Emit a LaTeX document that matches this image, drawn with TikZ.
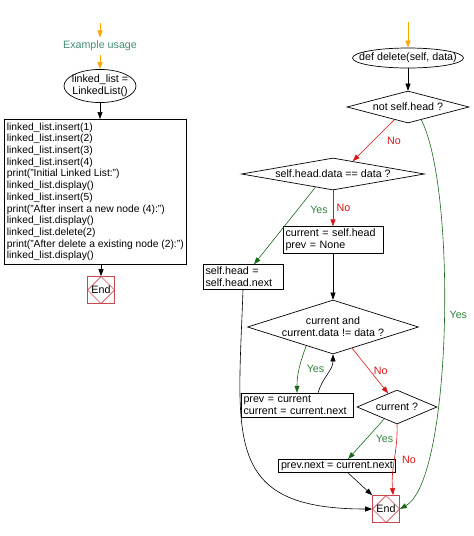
\documentclass[tikz,border=0pt]{standalone}
\usepackage{fontspec}
\setmainfont{Liberation Sans}
\usetikzlibrary{arrows.meta}
\usetikzlibrary{calc}
\usetikzlibrary{shapes.geometric}
\definecolor{dgreen}{RGB}{25,105,25}
\definecolor{lgreen}{RGB}{50,130,60}
\definecolor{dred}{RGB}{220,20,20}
\definecolor{endred}{RGB}{200,70,80}
\definecolor{usage}{RGB}{70,140,120}
\definecolor{orng}{RGB}{255,165,0}
\tikzstyle{fhead}=[>/.tip={Triangle[length=7pt,width=5pt]}]
\tikzstyle{fl} =[line width=.6pt,fhead,->]
\tikzstyle{flg}=[fl,dgreen]
\tikzstyle{flr}=[fl,dred]
\tikzstyle{flo}=[fl,orng]
\tikzstyle{stm}=[draw,line width=.7pt,align=left,inner sep=2.5pt]
\tikzstyle{dec}=[draw,diamond,line width=.7pt,inner sep=0pt,align=center]
\tikzstyle{strt}=[draw,ellipse,line width=.7pt,inner sep=0pt]
\tikzstyle{fin}=[draw=endred,line width=.7pt,minimum size=27pt,inner sep=0pt,
  path picture={\draw[endred,line width=.7pt] (path picture bounding box.north)
    -- (path picture bounding box.east) -- (path picture bounding box.south)
    -- (path picture bounding box.west) -- cycle;}]
\tikzstyle{yes}=[text=lgreen]
\tikzstyle{no}=[text=dred]

\begin{document}
\begin{tikzpicture}[x=1pt,y=-1pt,font=\fontsize{10.7}{11.7}\selectfont]
	\useasboundingbox (0,0) rectangle (474,536);
	% example usage
	\coordinate (o1) at (100,23);
	\node[text=usage] (ex) at (100,46) {Example usage};
	\node[strt,minimum width=72pt,minimum height=33pt] (ll) at (100,86)
	  {\makebox[0pt]{\begin{tabular}{@{}c@{}}linked\_list =\\LinkedList()\end{tabular}}};
	\node[stm,anchor=north west,minimum height=145pt,font=\fontsize{10.3}{11.7}\selectfont] (cb) at (4,119)
	  {linked\_list.insert(1)\\linked\_list.insert(2)\\linked\_list.insert(3)\\linked\_list.insert(4)\\
	   print("Initial Linked List:")\\linked\_list.display()\\linked\_list.insert(5)\\
	   print("After insert a new node (4):")\\linked\_list.display()\\linked\_list.delete(2)\\
	   print("After delete a existing node (2):")\\linked\_list.display()};
	\node[fin] (end1) at (101,290) {End};
	\draw[flo] (o1) -- (ex);
	\draw[flo] (ex) -- (ll);
	\draw[fl] (ll) -- (ll |- cb.north);
	\draw[fl] (end1 |- cb.south) -- (end1);
	% delete
	\coordinate (o2) at (408,22);
	\node[strt,minimum width=111pt,minimum height=20pt] (dl) at (408,58)
	  {\makebox[0pt]{def delete(self, data)}};
	\node[dec,aspect=3.8,minimum width=122pt,minimum height=32pt] (d1) at (408,107) {not self.head ?};
	\node[dec,aspect=5.7,minimum width=183pt,minimum height=32pt] (d2) at (333,174) {self.head.data == data ?};
	\node[stm,text width=95pt] (b1) at (333,240) {current = self.head\\prev = None};
	\node[stm,text width=75pt] (b2) at (243,277) {self.head =\\self.head.next};
	\node[dec,aspect=3.17,minimum width=171pt,minimum height=54pt] (d3) at (333,327) {current and\\current.data != data ?};
	\node[stm,text width=107pt] (b3) at (297,405) {prev = current\\current = current.next};
	\node[dec,aspect=2.35,minimum width=80pt,minimum height=34pt] (d4) at (397,407) {current ?};
	\node[stm,minimum width=116pt,inner ysep=2pt] (b4) at (337,466) {prev.next = current.next};
	\node[fin] (end2) at (386,509) {End};
	\draw[flo] (o2) -- (dl);
	\draw[fl] (dl) -- (d1);
	\draw[flr] (d1.223) -- node[pos=.5,right=10pt,no]{No} (d2.33);
	\draw[flg] (d1.316) .. controls (457,190) and (452,480) .. node[pos=.47,right=2pt,yes]{Yes} (end2.east);
	\draw[flr] (d2) -- node[right,no]{No} (b1);
	\draw[flg] (d2.217) -- node[pos=.29,right=9pt,yes]{Yes} (b2.49);
	\draw[fl] (b1) -- (d3);
	\draw[fl] (b2.south) to[out=-92,in=180,looseness=1.5] (end2.west);
	\draw[flg] (d3.215) to[out=250,in=90] node[right=4pt,yes]{Yes} (b3.north);
	\draw[fl] (b3.30) to[out=75,in=-90] (d3.south);
	\draw[flr] (d3.312) -- node[right,no]{No} (d4.123);
	\draw[flg] (d4.223) -- node[right=6pt,yes]{Yes} (b4.32);
	\draw[flr] (d4.south) to[out=-88,in=95] node[right=4pt,no]{No} (end2.63);
	\draw[fl] (b4.-32) -- (end2.north west);
\end{tikzpicture}
\end{document}
